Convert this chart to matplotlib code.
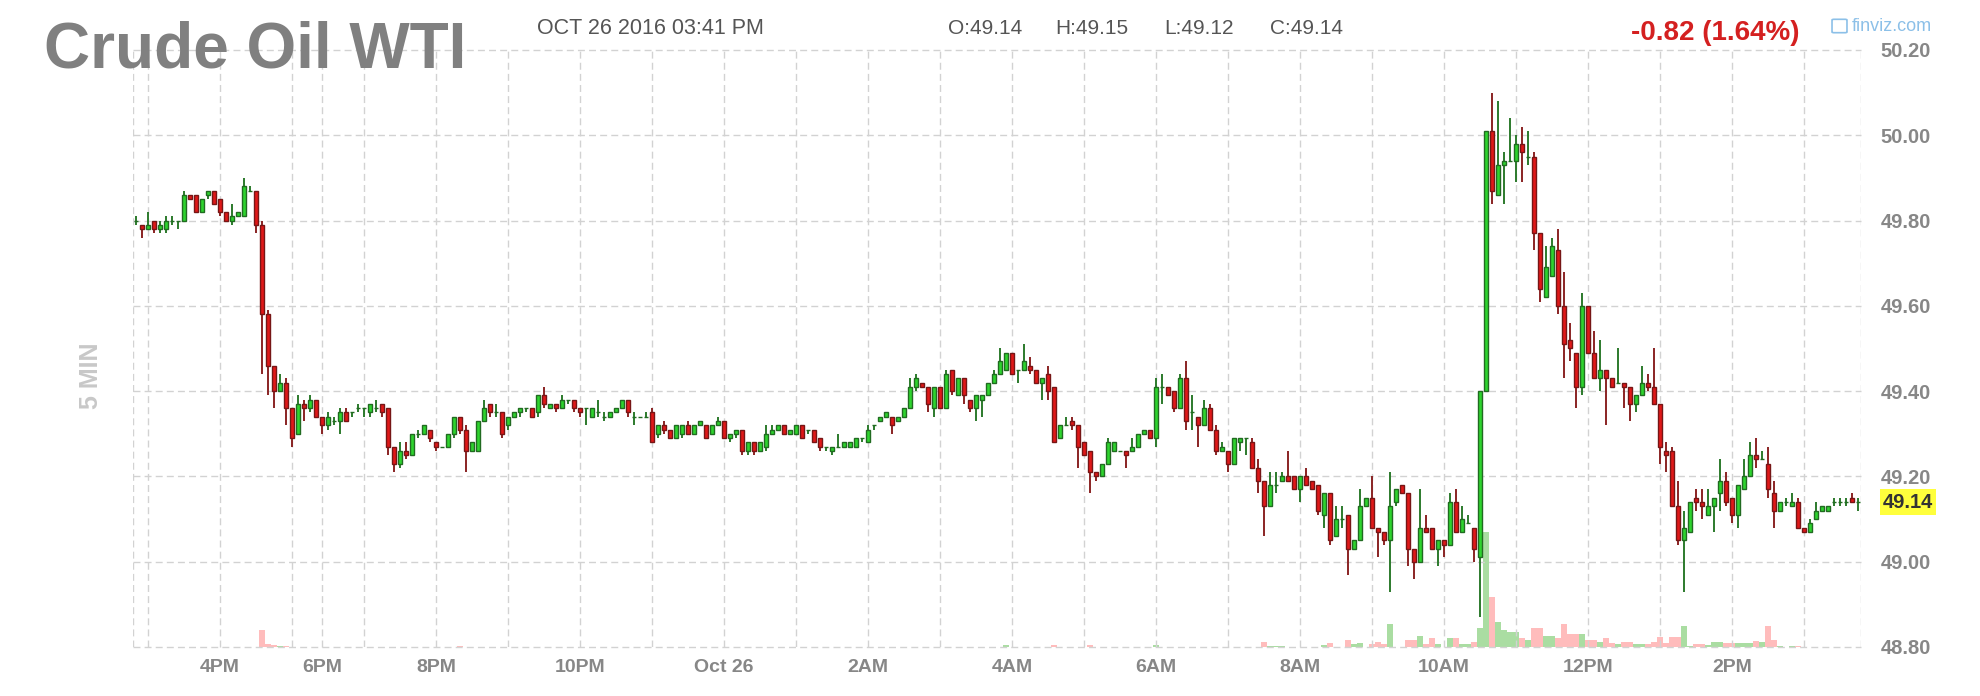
import matplotlib.pyplot as plt
import numpy as np
from matplotlib.patches import FancyBboxPatch
from matplotlib.transforms import blended_transform_factory

plt.rcParams['font.family'] = ['Liberation Sans', 'DejaVu Sans']

# 5 minute candles, Oct 25 ~2:50PM .. Oct 26 3:40PM (one row = one hour)
opens = [
    49.80, 49.79, 49.78, 49.80, 49.78, 49.78, 49.80, 49.80, 49.80, 49.86, 49.86, 49.82,
    49.86, 49.87, 49.85, 49.82, 49.80, 49.81, 49.81, 49.87, 49.87, 49.79, 49.58, 49.46,
    49.40, 49.42, 49.36, 49.30, 49.37, 49.36, 49.38, 49.34, 49.32, 49.33, 49.33, 49.35,
    49.35, 49.36, 49.36, 49.35, 49.36, 49.37, 49.36, 49.27, 49.23, 49.26, 49.25, 49.30,
    49.30, 49.31, 49.28, 49.27, 49.27, 49.30, 49.34, 49.31, 49.26, 49.26, 49.33, 49.37,
    49.35, 49.35, 49.32, 49.34, 49.35, 49.36, 49.36, 49.35, 49.39, 49.36, 49.37, 49.36,
    49.38, 49.38, 49.36, 49.36, 49.34, 49.35, 49.34, 49.34, 49.35, 49.36, 49.38, 49.34,
    49.34, 49.34, 49.35, 49.30, 49.32, 49.31, 49.29, 49.30, 49.32, 49.30, 49.32, 49.32,
    49.30, 49.32, 49.33, 49.29, 49.30, 49.31, 49.26, 49.28, 49.26, 49.27, 49.30, 49.31,
    49.32, 49.30, 49.30, 49.32, 49.31, 49.31, 49.29, 49.27, 49.26, 49.27, 49.27, 49.27,
    49.27, 49.29, 49.28, 49.32, 49.33, 49.34, 49.34, 49.33, 49.34, 49.36, 49.41, 49.42,
    49.41, 49.36, 49.41, 49.36, 49.45, 49.39, 49.43, 49.38, 49.36, 49.38, 49.39, 49.42,
    49.44, 49.45, 49.49, 49.45, 49.45, 49.46, 49.45, 49.42, 49.44, 49.41, 49.29, 49.32,
    49.33, 49.32, 49.28, 49.26, 49.21, 49.20, 49.23, 49.26, 49.26, 49.26, 49.26, 49.27,
    49.30, 49.31, 49.29, 49.41, 49.41, 49.40, 49.36, 49.43, 49.35, 49.34, 49.32, 49.36,
    49.31, 49.26, 49.26, 49.23, 49.28, 49.29, 49.28, 49.22, 49.19, 49.13, 49.18, 49.19,
    49.20, 49.20, 49.17, 49.20, 49.19, 49.18, 49.11, 49.16, 49.06, 49.10, 49.11, 49.03,
    49.05, 49.13, 49.15, 49.08, 49.07, 49.05, 49.14, 49.18, 49.16, 49.03, 49.00, 49.08,
    49.08, 49.03, 49.05, 49.04, 49.14, 49.07, 49.09, 49.08, 49.01, 49.40, 50.01, 49.86,
    49.93, 49.94, 49.94, 49.98, 49.95, 49.95, 49.77, 49.62, 49.67, 49.73, 49.60, 49.52,
    49.49, 49.41, 49.60, 49.49, 49.43, 49.45, 49.43, 49.42, 49.42, 49.41, 49.37, 49.39,
    49.42, 49.41, 49.37, 49.26, 49.26, 49.13, 49.05, 49.07, 49.15, 49.14, 49.11, 49.13,
    49.16, 49.19, 49.15, 49.11, 49.17, 49.20, 49.25, 49.24, 49.23, 49.16, 49.12, 49.14,
    49.13, 49.14, 49.08, 49.07, 49.10, 49.12, 49.12, 49.14, 49.14, 49.14, 49.15, 49.14,
]
highs = [
    49.81, 49.79, 49.82, 49.80, 49.80, 49.81, 49.81, 49.80, 49.87, 49.86, 49.86, 49.85,
    49.87, 49.87, 49.85, 49.82, 49.84, 49.82, 49.90, 49.88, 49.87, 49.80, 49.59, 49.46,
    49.44, 49.43, 49.36, 49.39, 49.38, 49.39, 49.38, 49.34, 49.35, 49.34, 49.36, 49.36,
    49.35, 49.37, 49.36, 49.37, 49.38, 49.37, 49.36, 49.27, 49.28, 49.28, 49.30, 49.31,
    49.32, 49.31, 49.28, 49.27, 49.30, 49.34, 49.34, 49.32, 49.28, 49.33, 49.38, 49.37,
    49.37, 49.35, 49.34, 49.35, 49.36, 49.36, 49.36, 49.39, 49.41, 49.37, 49.37, 49.39,
    49.38, 49.38, 49.36, 49.36, 49.36, 49.38, 49.35, 49.35, 49.36, 49.38, 49.38, 49.35,
    49.34, 49.35, 49.36, 49.32, 49.33, 49.31, 49.32, 49.32, 49.33, 49.32, 49.33, 49.32,
    49.32, 49.34, 49.33, 49.30, 49.31, 49.31, 49.28, 49.28, 49.28, 49.32, 49.32, 49.32,
    49.32, 49.31, 49.32, 49.32, 49.31, 49.31, 49.29, 49.27, 49.27, 49.30, 49.28, 49.28,
    49.29, 49.29, 49.32, 49.32, 49.34, 49.35, 49.34, 49.34, 49.36, 49.43, 49.44, 49.42,
    49.41, 49.41, 49.41, 49.45, 49.45, 49.43, 49.43, 49.38, 49.39, 49.39, 49.42, 49.45,
    49.50, 49.49, 49.49, 49.45, 49.51, 49.48, 49.45, 49.43, 49.46, 49.41, 49.32, 49.34,
    49.34, 49.32, 49.28, 49.26, 49.21, 49.23, 49.29, 49.28, 49.26, 49.26, 49.29, 49.30,
    49.31, 49.31, 49.43, 49.44, 49.41, 49.40, 49.44, 49.47, 49.39, 49.34, 49.38, 49.37,
    49.32, 49.28, 49.26, 49.29, 49.29, 49.29, 49.29, 49.24, 49.19, 49.21, 49.21, 49.21,
    49.26, 49.20, 49.20, 49.22, 49.19, 49.18, 49.16, 49.16, 49.13, 49.13, 49.11, 49.05,
    49.17, 49.15, 49.20, 49.08, 49.07, 49.21, 49.17, 49.18, 49.16, 49.03, 49.17, 49.11,
    49.08, 49.05, 49.05, 49.16, 49.17, 49.13, 49.11, 49.08, 49.40, 50.01, 50.10, 50.08,
    49.96, 50.04, 50.00, 50.02, 50.01, 49.96, 49.77, 49.74, 49.76, 49.78, 49.68, 49.56,
    49.49, 49.63, 49.60, 49.54, 49.52, 49.45, 49.43, 49.50, 49.42, 49.41, 49.39, 49.46,
    49.44, 49.50, 49.37, 49.28, 49.27, 49.19, 49.12, 49.14, 49.17, 49.17, 49.17, 49.15,
    49.24, 49.21, 49.15, 49.18, 49.24, 49.28, 49.29, 49.26, 49.27, 49.19, 49.14, 49.15,
    49.16, 49.15, 49.08, 49.10, 49.14, 49.13, 49.13, 49.15, 49.15, 49.15, 49.16, 49.15,
]
lows = [
    49.79, 49.76, 49.78, 49.77, 49.77, 49.77, 49.79, 49.78, 49.80, 49.85, 49.82, 49.82,
    49.85, 49.84, 49.81, 49.80, 49.79, 49.81, 49.81, 49.87, 49.77, 49.44, 49.39, 49.36,
    49.40, 49.32, 49.27, 49.30, 49.33, 49.35, 49.34, 49.30, 49.31, 49.32, 49.30, 49.33,
    49.34, 49.35, 49.34, 49.34, 49.35, 49.34, 49.25, 49.21, 49.22, 49.24, 49.25, 49.29,
    49.30, 49.28, 49.26, 49.27, 49.27, 49.29, 49.30, 49.21, 49.26, 49.26, 49.33, 49.34,
    49.34, 49.29, 49.31, 49.34, 49.34, 49.35, 49.34, 49.34, 49.36, 49.36, 49.35, 49.36,
    49.37, 49.35, 49.34, 49.32, 49.34, 49.34, 49.33, 49.34, 49.35, 49.36, 49.34, 49.32,
    49.34, 49.34, 49.28, 49.29, 49.30, 49.29, 49.29, 49.29, 49.30, 49.30, 49.32, 49.29,
    49.30, 49.32, 49.29, 49.28, 49.29, 49.25, 49.25, 49.25, 49.26, 49.26, 49.30, 49.31,
    49.30, 49.30, 49.30, 49.29, 49.30, 49.28, 49.26, 49.26, 49.25, 49.27, 49.27, 49.27,
    49.27, 49.28, 49.28, 49.31, 49.33, 49.34, 49.30, 49.33, 49.34, 49.36, 49.40, 49.41,
    49.35, 49.34, 49.36, 49.36, 49.39, 49.39, 49.37, 49.35, 49.33, 49.34, 49.39, 49.42,
    49.44, 49.45, 49.44, 49.42, 49.45, 49.44, 49.42, 49.38, 49.38, 49.28, 49.29, 49.32,
    49.31, 49.22, 49.25, 49.16, 49.19, 49.20, 49.23, 49.26, 49.26, 49.22, 49.26, 49.27,
    49.30, 49.29, 49.27, 49.37, 49.39, 49.35, 49.36, 49.31, 49.31, 49.27, 49.32, 49.31,
    49.25, 49.26, 49.21, 49.23, 49.26, 49.25, 49.22, 49.16, 49.06, 49.13, 49.16, 49.19,
    49.19, 49.17, 49.14, 49.18, 49.17, 49.11, 49.08, 49.04, 49.06, 49.08, 48.97, 49.03,
    49.05, 49.13, 49.08, 49.01, 49.04, 48.93, 49.13, 49.16, 48.99, 48.96, 49.00, 49.07,
    49.03, 48.99, 49.01, 49.04, 49.07, 49.07, 49.09, 49.00, 48.87, 49.40, 49.84, 49.86,
    49.84, 49.94, 49.89, 49.89, 49.93, 49.73, 49.61, 49.62, 49.67, 49.58, 49.43, 49.47,
    49.36, 49.39, 49.49, 49.43, 49.40, 49.32, 49.41, 49.42, 49.36, 49.33, 49.35, 49.39,
    49.40, 49.37, 49.23, 49.21, 49.13, 49.04, 48.93, 49.07, 49.12, 49.10, 49.11, 49.07,
    49.12, 49.13, 49.09, 49.08, 49.17, 49.20, 49.22, 49.24, 49.15, 49.08, 49.12, 49.13,
    49.13, 49.08, 49.07, 49.07, 49.10, 49.12, 49.12, 49.13, 49.13, 49.13, 49.14, 49.12,
]
closes = [
    49.80, 49.78, 49.79, 49.78, 49.79, 49.80, 49.80, 49.80, 49.86, 49.85, 49.82, 49.85,
    49.87, 49.84, 49.82, 49.80, 49.81, 49.82, 49.88, 49.87, 49.79, 49.58, 49.46, 49.40,
    49.42, 49.36, 49.29, 49.37, 49.36, 49.38, 49.34, 49.32, 49.34, 49.33, 49.35, 49.33,
    49.35, 49.36, 49.36, 49.37, 49.36, 49.35, 49.27, 49.23, 49.26, 49.25, 49.30, 49.30,
    49.32, 49.29, 49.27, 49.27, 49.30, 49.34, 49.31, 49.26, 49.28, 49.33, 49.36, 49.35,
    49.35, 49.30, 49.34, 49.35, 49.36, 49.36, 49.34, 49.39, 49.37, 49.37, 49.36, 49.38,
    49.38, 49.36, 49.35, 49.36, 49.36, 49.35, 49.34, 49.35, 49.36, 49.38, 49.35, 49.34,
    49.34, 49.34, 49.28, 49.32, 49.31, 49.29, 49.32, 49.32, 49.30, 49.32, 49.33, 49.29,
    49.32, 49.33, 49.29, 49.30, 49.31, 49.26, 49.28, 49.26, 49.28, 49.30, 49.31, 49.32,
    49.30, 49.31, 49.32, 49.29, 49.31, 49.28, 49.27, 49.27, 49.27, 49.27, 49.28, 49.28,
    49.29, 49.29, 49.31, 49.32, 49.34, 49.35, 49.32, 49.34, 49.36, 49.41, 49.43, 49.41,
    49.37, 49.41, 49.36, 49.44, 49.40, 49.43, 49.39, 49.36, 49.39, 49.39, 49.42, 49.44,
    49.47, 49.49, 49.44, 49.45, 49.47, 49.45, 49.42, 49.43, 49.40, 49.28, 49.32, 49.32,
    49.32, 49.27, 49.25, 49.21, 49.20, 49.23, 49.28, 49.28, 49.26, 49.25, 49.27, 49.30,
    49.31, 49.29, 49.41, 49.41, 49.39, 49.36, 49.43, 49.33, 49.35, 49.32, 49.36, 49.31,
    49.26, 49.27, 49.23, 49.29, 49.29, 49.29, 49.22, 49.19, 49.13, 49.18, 49.18, 49.20,
    49.19, 49.17, 49.20, 49.18, 49.17, 49.12, 49.16, 49.05, 49.10, 49.10, 49.03, 49.05,
    49.13, 49.15, 49.08, 49.07, 49.05, 49.13, 49.17, 49.16, 49.03, 49.00, 49.08, 49.07,
    49.03, 49.05, 49.04, 49.14, 49.07, 49.10, 49.09, 49.03, 49.40, 50.01, 49.87, 49.93,
    49.94, 49.94, 49.98, 49.96, 49.95, 49.77, 49.64, 49.69, 49.74, 49.60, 49.51, 49.50,
    49.41, 49.60, 49.49, 49.43, 49.45, 49.43, 49.41, 49.42, 49.41, 49.37, 49.39, 49.42,
    49.41, 49.37, 49.27, 49.25, 49.13, 49.05, 49.08, 49.14, 49.14, 49.13, 49.13, 49.15,
    49.19, 49.14, 49.11, 49.18, 49.20, 49.25, 49.24, 49.24, 49.17, 49.12, 49.14, 49.14,
    49.14, 49.08, 49.07, 49.09, 49.12, 49.13, 49.13, 49.14, 49.14, 49.14, 49.14, 49.14,
]
# volume per candle (relative units, 1 unit = 1 px of bar height)
volume = [
    0, 0, 0, 0, 0, 0, 0, 0, 0, 0, 0, 0, 0, 0, 0, 0, 0, 0, 0, 0, 0, 17, 3, 2,
    1, 1, 0, 0, 0, 0, 0, 0, 0, 0, 0, 0, 0, 0, 0, 0, 0, 0, 0, 0, 0, 0, 0, 0,
    0, 0, 0, 0, 0, 0, 1, 0, 0, 0, 0, 0, 0, 0, 0, 0, 0, 0, 0, 0, 0, 0, 0, 0,
    0, 0, 0, 0, 0, 0, 0, 0, 0, 0, 0, 0, 0, 0, 0, 0, 0, 0, 0, 0, 0, 0, 0, 0,
    0, 0, 0, 0, 0, 0, 0, 0, 0, 0, 0, 0, 0, 0, 0, 0, 0, 0, 0, 0, 0, 0, 0, 0,
    0, 0, 0, 0, 0, 0, 0, 0, 0.5, 0.5, 0.5, 0, 0, 0, 0, 0, 0, 0, 0, 0, 0, 0, 0, 0,
    0, 2, 0, 0, 0, 0, 0, 0, 0, 2, 0.5, 0, 0, 0.5, 0.5, 2, 0, 0, 0, 0, 0, 0, 0, 0,
    0, 0, 2, 0, 0, 0, 0.5, 0.5, 0.5, 0, 0, 0, 0, 0, 0, 0, 0, 0, 0.5, 0.5, 5.5, 1, 1, 1,
    0, 0, 0.5, 0.5, 0.5, 0.5, 2, 4, 0.5, 0.5, 7, 3, 4, 0.5, 3, 5.5, 3, 23, 0.5, 0.5, 7, 7, 11, 3,
    9, 3, 0.5, 9, 9, 3, 3, 5, 19, 115, 50, 25, 17, 15, 15, 9, 7, 19, 19, 11, 11, 9, 23, 13,
    13, 13, 7, 7, 5, 9, 4, 3, 5, 5, 3, 3, 3, 5, 10, 4, 10, 10, 21, 1, 3, 3, 2, 5,
    5, 4, 4, 4, 4, 4, 6, 5, 21, 7, 1, 0, 1, 1, 0, 0, 0, 0, 0, 0, 0, 0, 0, 0,
]

tick_pos = [14, 31, 50, 74, 98, 122, 146, 170, 194, 218, 242, 266]
tick_labels = ['4PM', '6PM', '8PM', '10PM', 'Oct 26', '2AM', '4AM', '6AM',
               '8AM', '10AM', '12PM', '2PM']
grid_pos = [-0.5] + [p for p in range(2, 288, 12) if p not in tick_pos] + [287.5]
price_ticks = [48.80, 49.00, 49.20, 49.40, 49.60, 49.80, 50.00, 50.20]
last_price = 49.14

o = np.array(opens)
h = np.array(highs)
l = np.array(lows)
c = np.array(closes)
x = np.arange(len(o))
up = c >= o

W, H = 1980, 696
fig = plt.figure(figsize=(W / 100, H / 100), dpi=100)
ax = fig.add_axes([133 / W, 1 - 647 / H, 1728 / W, 597 / H])
axv = ax.twinx()

# volume bars behind the candles
vol_colors = np.where(up, '#aadda2', '#ffbcbc')
axv.bar(x, volume, width=1.0, color=vol_colors, linewidth=0)
axv.set_ylim(0, 597)
axv.set_yticks([])
for s in axv.spines.values():
    s.set_visible(False)
ax.set_zorder(axv.get_zorder() + 1)
ax.patch.set_visible(False)

# candles
wick_colors = np.where(up, '#2c7a2c', '#8a2424')
ax.vlines(x, l, h, colors=wick_colors, linewidth=1.4, zorder=2)
ax.bar(x, np.abs(c - o), bottom=np.minimum(o, c), width=0.68,
       color=np.where(up, '#2ed42e', '#e01818'),
       edgecolor=np.where(up, '#216b21', '#761616'),
       linewidth=1.0, zorder=3)

ax.set_xlim(-0.5, 287.5)
ax.set_ylim(48.80, 50.20)
ax.set_xticks(tick_pos)
ax.set_xticklabels(tick_labels)
ax.set_xticks(grid_pos, minor=True)
ax.set_yticks(price_ticks)
ax.set_yticklabels(['%.2f' % p for p in price_ticks])
ax.yaxis.tick_right()
ax.tick_params(axis='both', which='both', length=0)
ax.tick_params(axis='x', pad=9, labelsize=14, labelcolor='#878787')
ax.tick_params(axis='y', pad=14, labelsize=14.5, labelcolor='#878787')
for t in ax.get_xticklabels() + ax.get_yticklabels():
    t.set_fontweight('bold')
ax.grid(True, which='both', color='#d2d2d2', linestyle=(0, (5, 3)), linewidth=1.0)
ax.set_axisbelow(True)
for gl in ax.get_xgridlines() + ax.get_ygridlines():
    gl.set_clip_on(False)
for s in ax.spines.values():
    s.set_visible(False)

# last price marker
tr = blended_transform_factory(ax.transAxes, ax.transData)
ax.text((1883 - 133) / 1728, last_price, '%.2f' % last_price, transform=tr,
        ha='left', va='center', fontsize=14.5, fontweight='bold', color='#333333',
        bbox=dict(boxstyle='square,pad=0.15', facecolor='#ffff3c', edgecolor='none'))

# header texts
fig.text(44 / W, 1 - 67 / H, 'Crude Oil WTI', fontsize=46, fontweight='bold',
         color='#808080', va='baseline')
fig.text(537 / W, 1 - 34 / H, 'OCT 26 2016 03:41 PM', fontsize=15.5,
         color='#555555', va='baseline')
for xp, s in zip([948, 1055, 1164, 1270], ['O:49.14', 'H:49.15', 'L:49.12', 'C:49.14']):
    fig.text(xp / W, 1 - 34 / H, s, fontsize=15, color='#555555', va='baseline')
fig.text(1631 / W, 1 - 40 / H, '-0.82 (1.64%)', fontsize=20, fontweight='bold',
         color='#d42020', va='baseline')
fig.patches.append(FancyBboxPatch((1834 / W, 1 - 32 / H), 11 / W, 12 / H,
                                  boxstyle='round,pad=0.001', transform=fig.transFigure,
                                  facecolor='none', edgecolor='#8cc0e8', linewidth=1.2))
fig.text(1852 / W, 1 - 31 / H, 'finviz.com', fontsize=13, color='#8cc0e8', va='baseline')
fig.text(91 / W, 1 - 376 / H, '5 MIN', fontsize=18, fontweight='bold', color='#c8c8c8',
         rotation=90, ha='center', va='center')

fig.savefig('out.png', dpi=100)
